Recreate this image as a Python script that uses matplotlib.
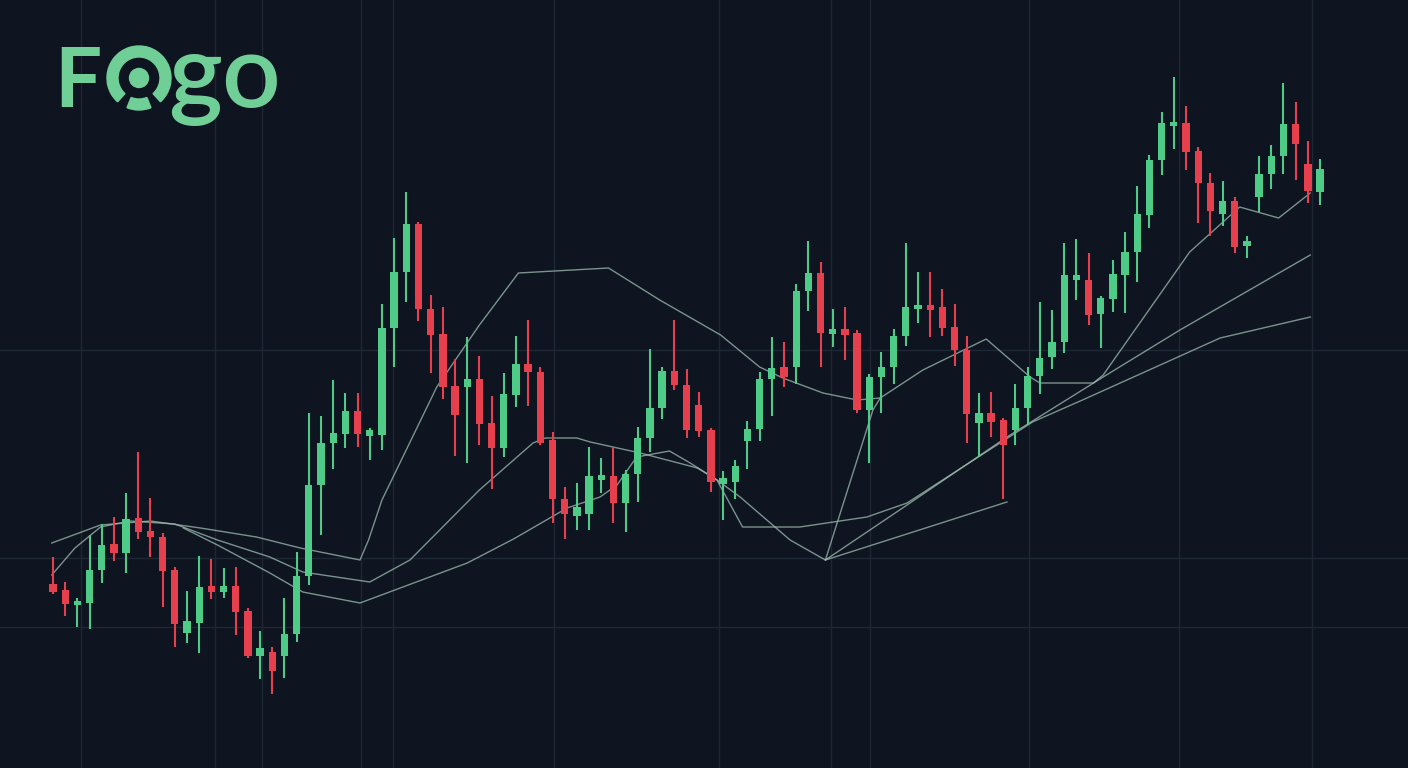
import matplotlib
matplotlib.use("Agg")
import matplotlib.pyplot as plt
from matplotlib.patches import Wedge, Circle
import numpy as np

# ---------------- data (price units) ----------------
opens = [21.6, 21.0, 19.5, 19.7, 23.0, 25.6, 24.7, 28.2, 26.9, 26.3,
         23.0, 16.7, 17.7, 21.4, 20.8, 21.4, 18.9, 14.4, 14.8, 14.4,
         16.6, 22.4, 31.5, 35.7, 36.6, 38.9, 36.4, 36.5, 47.2, 52.8,
         57.6, 49.1, 46.6, 41.4, 41.3, 42.1, 37.7, 35.2, 40.5, 43.6,
         42.8, 36.0, 30.1, 28.4, 28.6, 32.0, 32.4, 29.7, 32.6, 36.2,
         39.2, 42.9, 41.5, 39.5, 37.0, 31.6, 31.8, 35.9, 37.1, 42.1,
         43.3, 43.3, 50.9, 52.7, 46.6, 47.1, 46.7, 39.0, 42.3, 43.3,
         46.4, 49.1, 49.5, 49.3, 47.3, 45.0, 37.7, 38.7, 38.0, 37.0,
         39.2, 42.4, 44.3, 45.8, 52.0, 52.0, 48.6, 50.1, 52.5, 54.8,
         58.5, 64.0, 67.4, 67.7, 64.9, 61.7, 58.6, 59.9, 55.4, 60.3,
         62.6, 64.4, 67.6, 63.6, 60.8]
highs = [24.3, 21.8, 20.2, 26.5, 27.6, 28.3, 30.7, 34.8, 30.2, 26.7,
         23.3, 20.9, 24.4, 24.1, 23.2, 23.3, 19.2, 16.9, 15.3, 20.2,
         24.8, 38.7, 38.4, 42.0, 40.7, 40.7, 37.2, 49.6, 56.2, 60.8,
         57.8, 50.5, 49.3, 44.1, 46.3, 44.4, 40.4, 42.7, 46.4, 48.0,
         43.3, 36.8, 31.3, 31.7, 35.3, 34.2, 35.3, 33.0, 37.3, 45.1,
         43.3, 48.0, 43.1, 40.8, 37.2, 32.9, 34.0, 37.9, 42.8, 46.3,
         45.8, 51.6, 55.9, 53.8, 49.1, 49.3, 47.0, 42.6, 44.8, 47.1,
         55.7, 52.8, 52.8, 51.1, 49.6, 46.4, 40.7, 40.8, 38.2, 41.6,
         43.3, 49.8, 49.0, 55.7, 56.1, 54.7, 50.4, 54.0, 56.8, 61.4,
         64.5, 68.8, 72.3, 69.4, 65.3, 62.7, 61.9, 60.3, 56.4, 64.4,
         65.5, 71.7, 69.8, 65.9, 64.1]
lows = [20.6, 18.4, 17.3, 17.1, 21.7, 23.9, 22.7, 26.1, 24.3, 19.3,
        15.3, 15.7, 14.7, 20.1, 20.2, 16.5, 14.2, 12.1, 10.6, 12.2,
        15.8, 21.5, 26.5, 33.1, 35.2, 35.3, 34.0, 35.0, 43.3, 49.8,
        47.9, 42.7, 40.1, 34.4, 33.7, 35.5, 31.1, 34.3, 39.3, 39.4,
        35.5, 27.7, 26.1, 27.0, 27.0, 30.7, 27.7, 26.8, 29.8, 34.8,
        38.1, 41.0, 36.2, 36.3, 30.8, 28.0, 30.1, 33.1, 35.9, 38.4,
        41.3, 41.6, 48.9, 43.3, 45.3, 44.0, 38.7, 33.7, 38.7, 41.6,
        45.4, 47.7, 46.3, 46.4, 43.4, 35.7, 34.3, 36.3, 30.1, 35.5,
        37.5, 40.6, 43.1, 44.7, 50.0, 47.5, 45.2, 48.8, 48.7, 51.8,
        57.2, 62.5, 65.1, 63.0, 57.7, 56.4, 57.4, 54.7, 54.2, 58.8,
        61.1, 62.6, 62.0, 59.7, 59.5]
closes = [20.8, 19.6, 19.9, 23.0, 25.5, 24.7, 28.1, 26.8, 26.3, 22.9,
          17.6, 17.9, 21.3, 20.8, 21.4, 18.8, 14.4, 15.2, 12.9, 16.6,
          22.4, 31.5, 35.7, 36.7, 38.9, 36.6, 37.0, 47.2, 52.8, 57.6,
          49.1, 46.5, 41.3, 38.5, 42.1, 37.6, 35.2, 40.6, 43.6, 42.8,
          35.7, 30.1, 28.6, 29.3, 32.4, 32.5, 29.7, 32.6, 36.2, 39.2,
          42.9, 41.5, 37.0, 36.9, 31.8, 32.2, 33.4, 37.1, 42.1, 43.2,
          42.3, 50.9, 52.7, 46.7, 47.1, 46.5, 39.0, 42.3, 43.3, 46.4,
          49.3, 49.5, 49.0, 47.2, 45.0, 38.6, 38.7, 37.8, 35.5, 39.2,
          42.4, 44.2, 45.8, 52.5, 52.5, 48.5, 50.2, 52.6, 54.8, 58.6,
          64.0, 67.7, 67.8, 64.8, 61.7, 58.9, 59.9, 55.3, 55.9, 62.6,
          64.4, 67.6, 65.6, 60.9, 63.1]

# indicator polylines (x = candle index, y = price)
line_a_x = [-0.1, 3.9, 8.0, 12.1, 16.7, 20.3, 25.2, 25.9, 27.0, 31.5, 35.0, 38.2,
            45.6, 49.8, 54.8, 58.0, 59.9, 63.2, 66.0, 67.9, 71.4, 76.6, 80.2, 81.0,
            85.4, 86.2, 93.3, 97.4, 100.6, 103.2]
line_a_y = [25.7, 27.5, 27.9, 27.2, 26.3, 25.2, 24.0, 26.0, 30.0, 41.3, 47.5, 52.7,
            53.2, 50.0, 46.5, 43.3, 42.2, 40.7, 40.0, 40.2, 43.0, 46.1, 42.3, 41.7,
            41.7, 42.5, 54.8, 59.3, 58.2, 60.7]
line_c_x = [-0.1, 1.8, 3.9, 6.3, 10.0, 13.5, 17.8, 20.5, 26.0, 29.3, 35.0, 39.4,
            40.4, 43.0, 44.1, 48.2, 52.9, 54.5, 56.4, 60.5, 63.4, 67.3, 67.9]
line_c_y = [22.5, 25.2, 27.3, 27.9, 27.6, 26.0, 24.3, 22.8, 21.8, 24.0, 31.0, 35.7,
            36.2, 36.2, 35.8, 34.7, 33.2, 32.0, 30.3, 26.0, 24.0, 39.0, 40.2]
line_d_x = [10.7, 13.5, 17.8, 20.5, 25.2, 34.0, 37.8, 42.2, 44.9, 46.3, 47.9, 50.6,
            52.3, 54.5, 56.6, 61.3, 66.8, 70.1, 80.4, 84.5, 95.8, 103.2]
line_d_y = [27.2, 25.5, 22.7, 20.8, 19.7, 23.7, 26.1, 29.2, 30.3, 31.5, 34.3, 34.9,
            33.7, 32.0, 27.3, 27.3, 28.3, 29.7, 37.8, 40.0, 46.2, 48.3]
line_x_x = [63.4, 70.1, 78.3, 86.2, 92.5, 103.2]
line_x_y = [24.0, 29.5, 36.3, 42.3, 47.0, 54.5]
line_e_x = [63.4, 78.3]
line_e_y = [24.0, 29.8]

grid_x = [2.3, 13.3, 17.15, 25.3, 27.9, 41.1, 54.7, 63.9, 67.1, 80.1, 92.4, 103.3]
grid_y = [17.3, 24.2, 45.0]

logo_f = "F"
logo_rest = "go"

# ---------------- style ----------------
BG = "#0e1420"
GRID = "#1e2834"
GREEN = "#4fcb88"
RED = "#e6404f"
LINE = "#9fbdb2"
LOGO = "#6fcf97"

fig = plt.figure(figsize=(14.08, 7.68), dpi=100)
fig.patch.set_facecolor(BG)
ax = fig.add_axes([0, 0, 1, 1])
ax.set_facecolor(BG)
ax.set_xlim(-4.35, 111.22)
ax.set_ylim(3.2, 80.0)
for s in ax.spines.values():
    s.set_visible(False)
ax.set_xticks(grid_x)
ax.set_yticks(grid_y)
ax.tick_params(length=0, labelleft=False, labelbottom=False)
ax.grid(True, color=GRID, lw=1.0, zorder=0)
ax.set_axisbelow(True)

o = np.array(opens); h = np.array(highs); l = np.array(lows); c = np.array(closes)
idx = np.arange(len(o))
up = c >= o
cols = np.where(up, GREEN, RED)

for xs, ys in [(line_a_x, line_a_y), (line_c_x, line_c_y), (line_d_x, line_d_y),
               (line_x_x, line_x_y), (line_e_x, line_e_y)]:
    ax.plot(xs, ys, color=LINE, lw=1.0, alpha=0.75, zorder=2, solid_joinstyle="round")

ax.vlines(idx, l, h, colors=cols, lw=1.5, zorder=3)
body_h = np.maximum(np.abs(c - o), 0.4)
ax.bar(idx, body_h, bottom=np.minimum(o, c), width=0.6, color=cols, zorder=4, linewidth=0)

# ---------------- logo (pixel overlay) ----------------
lg = fig.add_axes([0, 0, 1, 1])
lg.set_xlim(0, 1408)
lg.set_ylim(0, 768)
lg.axis("off")
lg.patch.set_alpha(0)
lg.text(54, 768 - 107, logo_f, fontsize=60, color=LOGO, family="Lato",
        fontweight="bold", va="baseline", ha="left")
cx, cy = 139, 768 - 78
lg.add_patch(Wedge((cx, cy), 32, -48, 228, width=11, color=LOGO))
lg.add_patch(Wedge((cx, cy), 32, -112, -68, width=11, color=LOGO))
lg.add_patch(Circle((cx, cy), 9.5, color=LOGO))
lg.text(168, 768 - 107, logo_rest, fontsize=74, color=LOGO, family="Lato",
        fontweight="semibold", va="baseline", ha="left")

fig.savefig("out.png", dpi=100, facecolor=BG)
